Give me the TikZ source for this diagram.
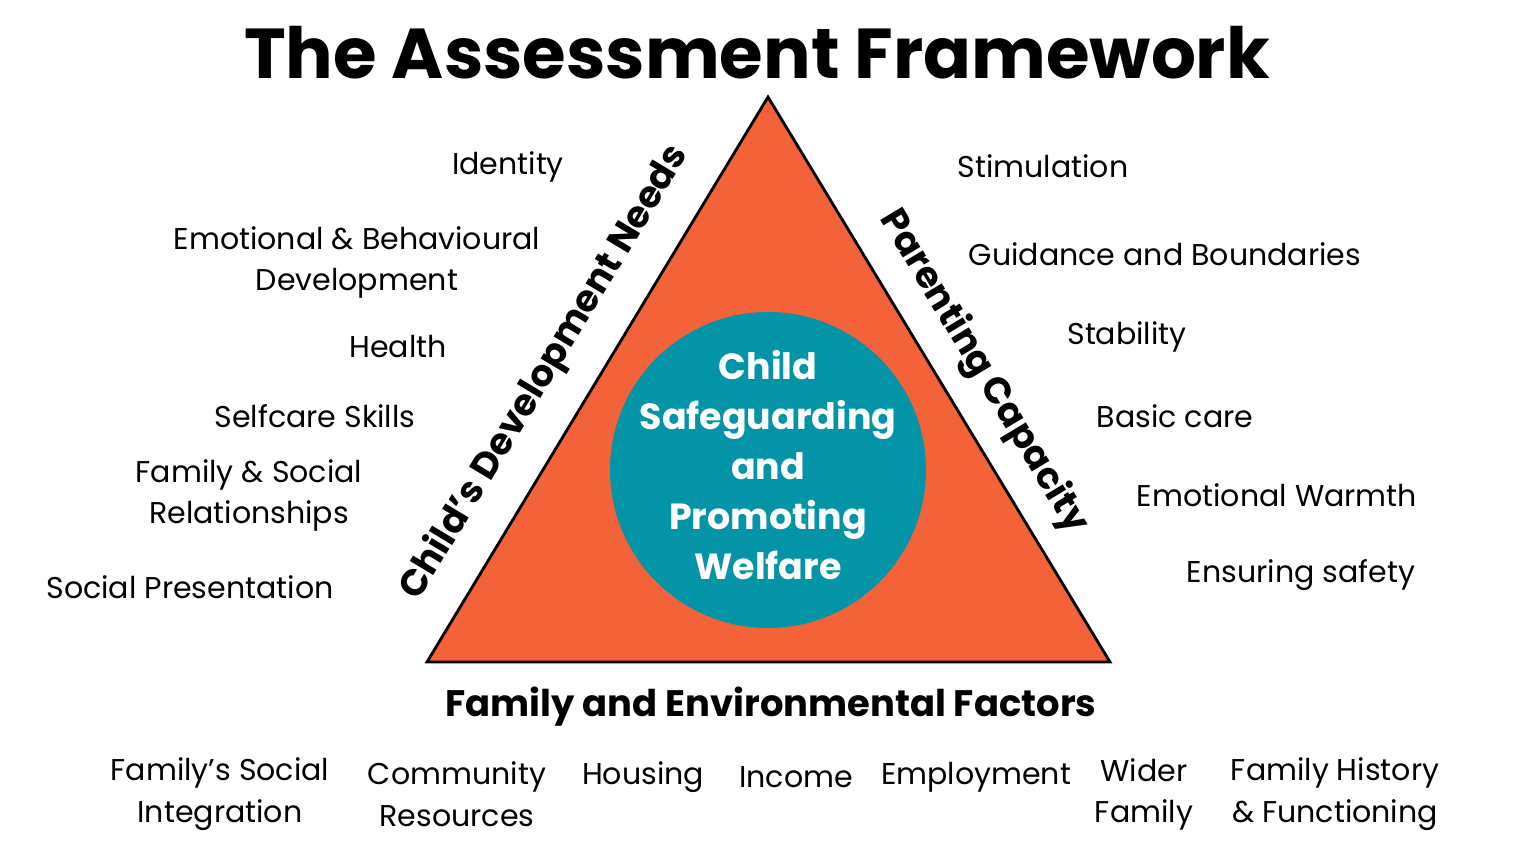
\documentclass[tikz,border=0pt]{standalone}
\usepackage{fontspec}
\setmainfont{Poppins}
\usepackage{tikz}
\definecolor{triorange}{HTML}{F4623A}
\definecolor{circteal}{HTML}{0394A8}
\tikzset{
  item/.style={align=center, font=\fontsize{17.1}{23.8}\selectfont, inner sep=0pt, yshift=-0.07cm},
  side/.style={align=center, font=\fontsize{21}{24}\bfseries\selectfont, inner sep=0pt},
  hub/.style={circle, fill=circteal, minimum size=316*0.02cm, inner sep=0pt}
}

\begin{document}
\begin{tikzpicture}[x=0.02cm, y=-0.02cm]
\useasboundingbox (0,0) rectangle (1536,864);
% title
\node[inner sep=0pt, font=\fontsize{40.2}{48}\bfseries\selectfont] (title) at (757,53) {The Assessment Framework};
% triangle and centre
\coordinate (apex) at (768,97);
\coordinate (bl) at (427,662);
\coordinate (br) at (1110,662);
\draw[line width=1.6pt, fill=triorange, line join=miter] (apex) -- (bl) -- (br) -- cycle;
\node[hub] (hub) at (768,470) {};
\node[align=center, text=white, inner sep=0pt, font=\fontsize{20.7}{28.5}\bfseries\selectfont] (welfare) at (768,465) {Child\\Safeguarding\\and\\Promoting\\Welfare};
% side titles
\node[side, rotate=58.9] (cdn) at (545,373) {Child’s Development Needs};
\node[side, rotate=-58.9] (pc) at (983,372) {Parenting Capacity};
\node[side] (fef) at (771,707) {Family and Environmental Factors};
% child's development needs
\node[item] (identity) at (508,163) {Identity};
\node[item] (emotional) at (357,259) {Emotional \& Behavioural\\Development};
\node[item] (health) at (398,343) {Health};
\node[item] (selfcare) at (315,413) {Selfcare Skills};
\node[item] (relations) at (249,492) {Family \& Social\\Relationships};
\node[item] (presentation) at (190,584) {Social Presentation};
% parenting capacity
\node[item] (stimulation) at (1043,163) {Stimulation};
\node[item] (guidance) at (1165,251) {Guidance and Boundaries};
\node[item] (stability) at (1127,333) {Stability};
\node[item] (basic) at (1175,413) {Basic care};
\node[item] (warmth) at (1277,492) {Emotional Warmth};
\node[item] (safety) at (1301,572) {Ensuring safety};
% family and environmental factors
\node[item] (integration) at (220,791) {Family’s Social\\Integration};
\node[item] (community) at (457,791) {Community\\Resources};
\node[item] (housing) at (643,774) {Housing};
\node[item] (income) at (796,774) {Income};
\node[item] (employment) at (976,774) {Employment};
\node[item] (wider) at (1144,791) {Wider\\Family};
\node[item] (history) at (1335,791) {Family History\\\& Functioning};
\end{tikzpicture}
\end{document}
